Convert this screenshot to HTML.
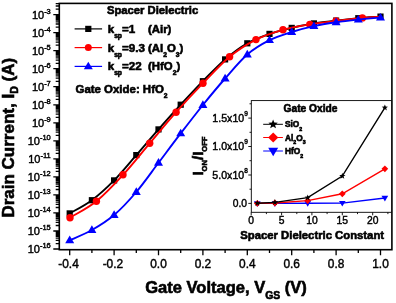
<!DOCTYPE html><html><head><meta charset="utf-8"><title>Drain current vs gate voltage</title>
<style>html,body{margin:0;padding:0;background:#fff;}svg{display:block;filter:blur(0.3px);font-family:"Liberation Sans",sans-serif;}text{fill:#000;}.b{font-weight:bold;stroke:#000;stroke-width:0.6px;}.t{stroke:#000;stroke-width:0.42px;}</style></head><body>
<svg width="396" height="303" viewBox="0 0 396 303">
<rect width="396" height="303" fill="#fff"/>
<path d="M69.7 213.4C73.4 211.2 84.5 205.7 91.9 200.2C99.3 194.7 106.7 187.9 114.1 180.4C121.5 172.9 128.9 163.6 136.3 155.1C143.7 146.6 151.1 137.8 158.5 129.4C165.9 121.0 173.3 112.7 180.7 104.7C188.1 96.7 195.5 88.8 202.9 81.2C210.3 73.7 217.7 65.7 225.1 59.4C232.5 53.1 239.9 47.5 247.3 43.3C254.7 39.0 262.1 36.5 269.5 33.9C276.9 31.3 284.3 29.6 291.7 27.9C299.1 26.1 306.5 24.6 313.9 23.4C321.3 22.2 328.7 21.5 336.1 20.6C343.5 19.7 350.9 18.9 358.3 18.2C365.7 17.5 376.8 16.9 380.5 16.6" stroke="#000" fill="none" stroke-width="1.9"/>
<rect x="66.6" y="210.3" width="6.2" height="6.2" fill="#000"/>
<rect x="88.8" y="197.1" width="6.2" height="6.2" fill="#000"/>
<rect x="111.0" y="177.3" width="6.2" height="6.2" fill="#000"/>
<rect x="133.2" y="152.0" width="6.2" height="6.2" fill="#000"/>
<rect x="155.4" y="126.3" width="6.2" height="6.2" fill="#000"/>
<rect x="177.6" y="101.6" width="6.2" height="6.2" fill="#000"/>
<rect x="199.8" y="78.1" width="6.2" height="6.2" fill="#000"/>
<rect x="222.0" y="56.3" width="6.2" height="6.2" fill="#000"/>
<rect x="244.2" y="40.2" width="6.2" height="6.2" fill="#000"/>
<rect x="266.4" y="30.8" width="6.2" height="6.2" fill="#000"/>
<rect x="288.6" y="24.8" width="6.2" height="6.2" fill="#000"/>
<rect x="310.8" y="20.3" width="6.2" height="6.2" fill="#000"/>
<rect x="333.0" y="17.5" width="6.2" height="6.2" fill="#000"/>
<rect x="355.2" y="15.1" width="6.2" height="6.2" fill="#000"/>
<rect x="377.4" y="13.5" width="6.2" height="6.2" fill="#000"/>
<path d="M70.0 217.7C74.4 214.9 87.6 208.3 96.4 201.2C105.2 194.0 114.1 184.5 123.0 174.8C131.9 165.2 140.8 153.7 149.7 143.3C158.5 132.9 167.2 122.2 176.1 112.2C185.0 102.2 194.1 92.4 203.0 83.2C211.9 74.0 220.8 64.1 229.6 56.8C238.4 49.5 247.1 44.1 256.0 39.6C264.9 35.1 274.0 32.3 283.0 29.8C292.0 27.3 301.0 25.9 309.8 24.4C318.6 22.9 327.2 22.1 336.0 21.0C344.8 19.9 355.0 18.6 362.4 17.9C369.8 17.2 377.5 17.0 380.5 16.8" stroke="#f00" fill="none" stroke-width="1.9"/>
<circle cx="70.0" cy="217.7" r="3.7" fill="#f00"/>
<circle cx="96.4" cy="201.2" r="3.7" fill="#f00"/>
<circle cx="123.0" cy="174.8" r="3.7" fill="#f00"/>
<circle cx="149.7" cy="143.3" r="3.7" fill="#f00"/>
<circle cx="176.1" cy="112.2" r="3.7" fill="#f00"/>
<circle cx="203.0" cy="83.2" r="3.7" fill="#f00"/>
<circle cx="229.6" cy="56.8" r="3.7" fill="#f00"/>
<circle cx="256.0" cy="39.6" r="3.7" fill="#f00"/>
<circle cx="283.0" cy="29.8" r="3.7" fill="#f00"/>
<circle cx="309.8" cy="24.4" r="3.7" fill="#f00"/>
<circle cx="336.0" cy="21.0" r="3.7" fill="#f00"/>
<circle cx="362.4" cy="17.9" r="3.7" fill="#f00"/>
<path d="M69.7 240.3C73.4 238.6 84.5 234.2 91.9 230.0C99.3 225.8 106.7 221.3 114.1 215.0C121.5 208.7 128.9 200.7 136.3 192.0C143.7 183.3 151.1 172.6 158.5 162.8C165.9 153.0 173.3 143.0 180.7 133.4C188.1 123.8 195.5 114.2 202.9 105.0C210.3 95.8 217.7 86.9 225.1 78.5C232.5 70.1 239.9 60.9 247.3 54.5C254.7 48.1 262.1 44.0 269.5 40.2C276.9 36.5 284.3 34.4 291.7 32.0C299.1 29.6 306.5 27.7 313.9 26.1C321.3 24.5 328.7 23.4 336.1 22.3C343.5 21.2 350.9 20.4 358.3 19.6C365.7 18.8 376.8 17.9 380.5 17.6" stroke="#00f" fill="none" stroke-width="1.9"/>
<path d="M69.7 235.6 L65.2 243.2 L74.2 243.2 Z" fill="#00f"/>
<path d="M91.9 225.3 L87.4 232.9 L96.4 232.9 Z" fill="#00f"/>
<path d="M114.1 210.3 L109.6 217.9 L118.6 217.9 Z" fill="#00f"/>
<path d="M136.3 187.3 L131.8 194.9 L140.8 194.9 Z" fill="#00f"/>
<path d="M158.5 158.1 L154.0 165.7 L163.0 165.7 Z" fill="#00f"/>
<path d="M180.7 128.7 L176.2 136.3 L185.2 136.3 Z" fill="#00f"/>
<path d="M202.9 100.3 L198.4 107.9 L207.4 107.9 Z" fill="#00f"/>
<path d="M225.1 73.8 L220.6 81.4 L229.6 81.4 Z" fill="#00f"/>
<path d="M247.3 49.8 L242.8 57.4 L251.8 57.4 Z" fill="#00f"/>
<path d="M269.5 35.5 L265.0 43.1 L274.0 43.1 Z" fill="#00f"/>
<path d="M291.7 27.3 L287.2 34.9 L296.2 34.9 Z" fill="#00f"/>
<path d="M313.9 21.4 L309.4 29.0 L318.4 29.0 Z" fill="#00f"/>
<path d="M336.1 17.6 L331.6 25.2 L340.6 25.2 Z" fill="#00f"/>
<path d="M358.3 14.9 L353.8 22.5 L362.8 22.5 Z" fill="#00f"/>
<path d="M380.5 12.9 L376.0 20.5 L385.0 20.5 Z" fill="#00f"/>
<rect x="59.3" y="3.4" width="332.6" height="246.3" fill="none" stroke="#000" stroke-width="1.6"/>
<path d="M59.3 249.0H53.3M59.3 243.6H55.7M59.3 240.4H55.7M59.3 238.1H55.7M59.3 236.4H55.7M59.3 235.0H55.7M59.3 233.8H55.7M59.3 232.7H55.7M59.3 231.8H55.7M59.3 231.0H53.3M59.3 225.5H55.7M59.3 222.4H55.7M59.3 220.1H55.7M59.3 218.4H55.7M59.3 216.9H55.7M59.3 215.7H55.7M59.3 214.7H55.7M59.3 213.8H55.7M59.3 212.9H53.3M59.3 207.5H55.7M59.3 204.3H55.7M59.3 202.1H55.7M59.3 200.3H55.7M59.3 198.9H55.7M59.3 197.7H55.7M59.3 196.6H55.7M59.3 195.7H55.7M59.3 194.9H53.3M59.3 189.5H55.7M59.3 186.3H55.7M59.3 184.0H55.7M59.3 182.3H55.7M59.3 180.9H55.7M59.3 179.7H55.7M59.3 178.6H55.7M59.3 177.7H55.7M59.3 176.9H53.3M59.3 171.4H55.7M59.3 168.3H55.7M59.3 166.0H55.7M59.3 164.3H55.7M59.3 162.8H55.7M59.3 161.6H55.7M59.3 160.6H55.7M59.3 159.7H55.7M59.3 158.8H53.3M59.3 153.4H55.7M59.3 150.2H55.7M59.3 148.0H55.7M59.3 146.2H55.7M59.3 144.8H55.7M59.3 143.6H55.7M59.3 142.6H55.7M59.3 141.6H55.7M59.3 140.8H53.3M59.3 135.4H55.7M59.3 132.2H55.7M59.3 130.0H55.7M59.3 128.2H55.7M59.3 126.8H55.7M59.3 125.6H55.7M59.3 124.5H55.7M59.3 123.6H55.7M59.3 122.8H53.3M59.3 117.4H55.7M59.3 114.2H55.7M59.3 111.9H55.7M59.3 110.2H55.7M59.3 108.7H55.7M59.3 107.5H55.7M59.3 106.5H55.7M59.3 105.6H55.7M59.3 104.8H53.3M59.3 99.3H55.7M59.3 96.1H55.7M59.3 93.9H55.7M59.3 92.1H55.7M59.3 90.7H55.7M59.3 89.5H55.7M59.3 88.5H55.7M59.3 87.5H55.7M59.3 86.7H53.3M59.3 81.3H55.7M59.3 78.1H55.7M59.3 75.9H55.7M59.3 74.1H55.7M59.3 72.7H55.7M59.3 71.5H55.7M59.3 70.4H55.7M59.3 69.5H55.7M59.3 68.7H53.3M59.3 63.3H55.7M59.3 60.1H55.7M59.3 57.8H55.7M59.3 56.1H55.7M59.3 54.7H55.7M59.3 53.5H55.7M59.3 52.4H55.7M59.3 51.5H55.7M59.3 50.7H53.3M59.3 45.2H55.7M59.3 42.1H55.7M59.3 39.8H55.7M59.3 38.1H55.7M59.3 36.6H55.7M59.3 35.4H55.7M59.3 34.4H55.7M59.3 33.5H55.7M59.3 32.6H53.3M59.3 27.2H55.7M59.3 24.0H55.7M59.3 21.8H55.7M59.3 20.0H55.7M59.3 18.6H55.7M59.3 17.4H55.7M59.3 16.3H55.7M59.3 15.4H55.7M59.3 14.6H53.3M59.3 9.2H55.7M59.3 6.0H55.7M59.3 3.7H55.7" stroke="#000" stroke-width="1.3" fill="none"/>
<path d="M69.7 249.7V255.2M91.9 249.7V252.9M114.1 249.7V255.2M136.3 249.7V252.9M158.5 249.7V255.2M180.7 249.7V252.9M202.9 249.7V255.2M225.1 249.7V252.9M247.3 249.7V255.2M269.5 249.7V252.9M291.7 249.7V255.2M313.9 249.7V252.9M336.1 249.7V255.2M358.3 249.7V252.9M380.5 249.7V255.2" stroke="#000" stroke-width="1.3" fill="none"/>
<text x="50.8" y="253.3" font-size="11" text-anchor="end" class="t">10<tspan dy="-5.4" font-size="7.5">-16</tspan></text>
<text x="50.8" y="235.3" font-size="11" text-anchor="end" class="t">10<tspan dy="-5.4" font-size="7.5">-15</tspan></text>
<text x="50.8" y="217.2" font-size="11" text-anchor="end" class="t">10<tspan dy="-5.4" font-size="7.5">-14</tspan></text>
<text x="50.8" y="199.2" font-size="11" text-anchor="end" class="t">10<tspan dy="-5.4" font-size="7.5">-13</tspan></text>
<text x="50.8" y="181.2" font-size="11" text-anchor="end" class="t">10<tspan dy="-5.4" font-size="7.5">-12</tspan></text>
<text x="50.8" y="163.1" font-size="11" text-anchor="end" class="t">10<tspan dy="-5.4" font-size="7.5">-11</tspan></text>
<text x="50.8" y="145.1" font-size="11" text-anchor="end" class="t">10<tspan dy="-5.4" font-size="7.5">-10</tspan></text>
<text x="50.8" y="127.1" font-size="11" text-anchor="end" class="t">10<tspan dy="-5.4" font-size="7.5">-9</tspan></text>
<text x="50.8" y="109.0" font-size="11" text-anchor="end" class="t">10<tspan dy="-5.4" font-size="7.5">-8</tspan></text>
<text x="50.8" y="91.0" font-size="11" text-anchor="end" class="t">10<tspan dy="-5.4" font-size="7.5">-7</tspan></text>
<text x="50.8" y="73.0" font-size="11" text-anchor="end" class="t">10<tspan dy="-5.4" font-size="7.5">-6</tspan></text>
<text x="50.8" y="55.0" font-size="11" text-anchor="end" class="t">10<tspan dy="-5.4" font-size="7.5">-5</tspan></text>
<text x="50.8" y="36.9" font-size="11" text-anchor="end" class="t">10<tspan dy="-5.4" font-size="7.5">-4</tspan></text>
<text x="50.8" y="18.9" font-size="11" text-anchor="end" class="t">10<tspan dy="-5.4" font-size="7.5">-3</tspan></text>
<text x="68.5" y="267.9" font-size="11.9" text-anchor="middle" class="t">-0.4</text>
<text x="112.9" y="267.9" font-size="11.9" text-anchor="middle" class="t">-0.2</text>
<text x="158.5" y="267.9" font-size="11.9" text-anchor="middle" class="t">0.0</text>
<text x="202.9" y="267.9" font-size="11.9" text-anchor="middle" class="t">0.2</text>
<text x="247.3" y="267.9" font-size="11.9" text-anchor="middle" class="t">0.4</text>
<text x="291.7" y="267.9" font-size="11.9" text-anchor="middle" class="t">0.6</text>
<text x="336.1" y="267.9" font-size="11.9" text-anchor="middle" class="t">0.8</text>
<text x="380.5" y="267.9" font-size="11.9" text-anchor="middle" class="t">1.0</text>
<text x="145.2" y="292.7" font-size="16.55" class="b">Gate Voltage, V<tspan dy="6.6" font-size="10.4">GS</tspan><tspan dy="-6.6"> (V)</tspan></text>
<text transform="translate(14.2,217.6) rotate(-90)" font-size="17" class="b">Drain Current, I<tspan dy="3.3" font-size="10.6">D</tspan><tspan dy="-3.3"> (A)</tspan></text>
<text x="106.9" y="14.0" font-size="11.25" class="b">Spacer Dielectric</text>
<path d="M74.6 28.9H102.1" stroke="#000" stroke-width="1.2"/>
<path d="M74.6 47.6H102.1" stroke="#f00" stroke-width="1.2"/>
<path d="M74.6 66.4H102.1" stroke="#00f" stroke-width="1.2"/>
<rect x="85.2" y="25.8" width="6.2" height="6.2" fill="#000"/>
<circle cx="88.3" cy="47.6" r="3.5" fill="#f00"/>
<path d="M88.3 61.7 L83.8 69.3 L92.8 69.3 Z" fill="#00f"/>
<text x="107.7" y="33" font-size="11.6" class="b">k<tspan dy="5" font-size="6.7">sp</tspan><tspan dy="-5">=1</tspan></text>
<text x="148.0" y="33" font-size="11.4" class="b">(Air)</text>
<text x="107.7" y="51.5" font-size="11.6" class="b">k<tspan dy="5" font-size="6.7">sp</tspan><tspan dy="-5">=9.3</tspan></text>
<text x="148.0" y="51.5" font-size="11.4" class="b">(Al<tspan dy="5" font-size="6.7">2</tspan><tspan dy="-5">O</tspan><tspan dy="5" font-size="6.7">3</tspan><tspan dy="-5">)</tspan></text>
<text x="107.7" y="70.2" font-size="11.6" class="b">k<tspan dy="5" font-size="6.7">sp</tspan><tspan dy="-5">=22</tspan></text>
<text x="148.0" y="70.2" font-size="11.4" class="b">(HfO<tspan dy="5" font-size="6.7">2</tspan><tspan dy="-5">)</tspan></text>
<text x="75.5" y="92.6" font-size="11.45" class="b">Gate Oxide: HfO<tspan dy="5" font-size="6.7">2</tspan><tspan dy="-5"></tspan></text>
<rect x="251.3" y="100.6" width="140.3" height="111.7" fill="#fff" stroke="#000" stroke-width="0.9"/>
<path d="M257.3 203.4L274.9 203.4L307.7 203.3L342.3 203.1L384.9 198.0" stroke="#00f" stroke-width="1.4" fill="none"/>
<path d="M257.3 206.9 L253.9 201.2 L260.6 201.2 Z" fill="#00f"/>
<path d="M274.9 206.9 L271.6 201.2 L278.2 201.2 Z" fill="#00f"/>
<path d="M307.7 206.8 L304.4 201.1 L311.0 201.1 Z" fill="#00f"/>
<path d="M342.3 206.6 L339.0 200.9 L345.6 200.9 Z" fill="#00f"/>
<path d="M384.9 201.5 L381.5 195.8 L388.2 195.8 Z" fill="#00f"/>
<path d="M257.3 203.3L274.9 203.0L307.7 200.6L342.3 193.8L384.9 168.8" stroke="#f00" stroke-width="1.4" fill="none"/>
<path d="M257.3 199.9L260.7 203.3L257.3 206.7L253.9 203.3Z" fill="#f00"/>
<path d="M274.9 199.6L278.3 203.0L274.9 206.4L271.5 203.0Z" fill="#f00"/>
<path d="M307.7 197.2L311.1 200.6L307.7 204.0L304.3 200.6Z" fill="#f00"/>
<path d="M342.3 190.4L345.7 193.8L342.3 197.2L338.9 193.8Z" fill="#f00"/>
<path d="M384.9 165.4L388.2 168.8L384.9 172.2L381.5 168.8Z" fill="#f00"/>
<path d="M257.3 203.2L274.9 202.4L307.7 197.7L342.3 176.0L384.9 107.7" stroke="#000" stroke-width="1.4" fill="none"/>
<path d="M257.3 199.9L258.1 202.1L260.4 202.2L258.6 203.6L259.2 205.9L257.3 204.6L255.3 205.9L256.0 203.6L254.1 202.2L256.5 202.1Z" fill="#000"/>
<path d="M274.9 199.1L275.7 201.3L278.0 201.4L276.2 202.8L276.8 205.1L274.9 203.8L273.0 205.1L273.6 202.8L271.8 201.4L274.1 201.3Z" fill="#000"/>
<path d="M307.7 194.4L308.5 196.6L310.8 196.7L309.0 198.1L309.6 200.4L307.7 199.1L305.8 200.4L306.4 198.1L304.6 196.7L306.9 196.6Z" fill="#000"/>
<path d="M342.3 172.7L343.1 174.9L345.5 175.0L343.6 176.4L344.3 178.7L342.3 177.4L340.4 178.7L341.0 176.4L339.2 175.0L341.5 174.9Z" fill="#000"/>
<path d="M384.9 104.4L385.7 106.6L388.0 106.7L386.2 108.1L386.8 110.4L384.9 109.1L382.9 110.4L383.5 108.1L381.7 106.7L384.0 106.6Z" fill="#000"/>
<path d="M251.3 203.4H248.3M251.3 189.2H249.5M251.3 175.0H248.3M251.3 160.7H249.5M251.3 146.5H248.3M251.3 132.3H249.5M251.3 118.1H248.3M251.3 103.8H249.5M251.2 212.3V215.3M266.4 212.3V214.1M281.6 212.3V215.3M296.8 212.3V214.1M311.9 212.3V215.3M327.1 212.3V214.1M342.3 212.3V215.3M357.5 212.3V214.1M372.7 212.3V215.3M387.9 212.3V214.1" stroke="#000" stroke-width="0.9" fill="none"/>
<text x="247" y="207.1" font-size="10.3" text-anchor="end" class="t">0.0</text>
<text x="247.8" y="178.7" font-size="10.6" text-anchor="end" class="t">5.0x10<tspan dy="-5.9" font-size="6.5">8</tspan></text>
<text x="247.8" y="150.2" font-size="10.6" text-anchor="end" class="t">1.0x10<tspan dy="-5.9" font-size="6.5">9</tspan></text>
<text x="247.8" y="121.8" font-size="10.6" text-anchor="end" class="t">1.5x10<tspan dy="-5.9" font-size="6.5">9</tspan></text>
<text x="251.2" y="224.3" font-size="10.3" text-anchor="middle" class="t">0</text>
<text x="281.6" y="224.3" font-size="10.3" text-anchor="middle" class="t">5</text>
<text x="311.9" y="224.3" font-size="10.3" text-anchor="middle" class="t">10</text>
<text x="342.3" y="224.3" font-size="10.3" text-anchor="middle" class="t">15</text>
<text x="372.7" y="224.3" font-size="10.3" text-anchor="middle" class="t">20</text>
<text x="240.3" y="238.7" font-size="11.3" class="b">Spacer Dielectric Constant</text>
<text transform="translate(203,175.6) rotate(-90)" font-size="15" class="b">I<tspan dy="3.6" font-size="7.6">ON</tspan><tspan dy="-3.6">/I</tspan><tspan dy="3.6" font-size="7.6">OFF</tspan></text>
<text x="310.5" y="112" font-size="10.2" class="b" text-anchor="middle">Gate Oxide</text>
<path d="M263.2 124.3H282.9" stroke="#000" stroke-width="1"/>
<path d="M263.2 137.5H282.9" stroke="#f00" stroke-width="1"/>
<path d="M263.2 151.0H282.9" stroke="#00f" stroke-width="1"/>
<path d="M273.1 119.4L274.3 122.6L277.8 122.8L275.1 124.9L276.0 128.3L273.1 126.4L270.2 128.3L271.1 124.9L268.4 122.8L271.9 122.6Z" fill="#000"/>
<path d="M273.2 132.4L278.3 137.5L273.2 142.6L268.1 137.5Z" fill="#f00"/>
<path d="M273.2 156.3 L268.2 147.7 L278.2 147.7 Z" fill="#00f"/>
<text x="285" y="127.4" font-size="8.3" class="b">SiO<tspan dy="3.2" font-size="5.2">2</tspan><tspan dy="-3.2"></tspan></text>
<text x="285" y="140.8" font-size="8.3" class="b">Al<tspan dy="3.2" font-size="5.2">2</tspan><tspan dy="-3.2">O</tspan><tspan dy="3.2" font-size="5.2">3</tspan><tspan dy="-3.2"></tspan></text>
<text x="285" y="154.3" font-size="8.3" class="b">HfO<tspan dy="3.2" font-size="5.2">2</tspan><tspan dy="-3.2"></tspan></text>
</svg></body></html>
